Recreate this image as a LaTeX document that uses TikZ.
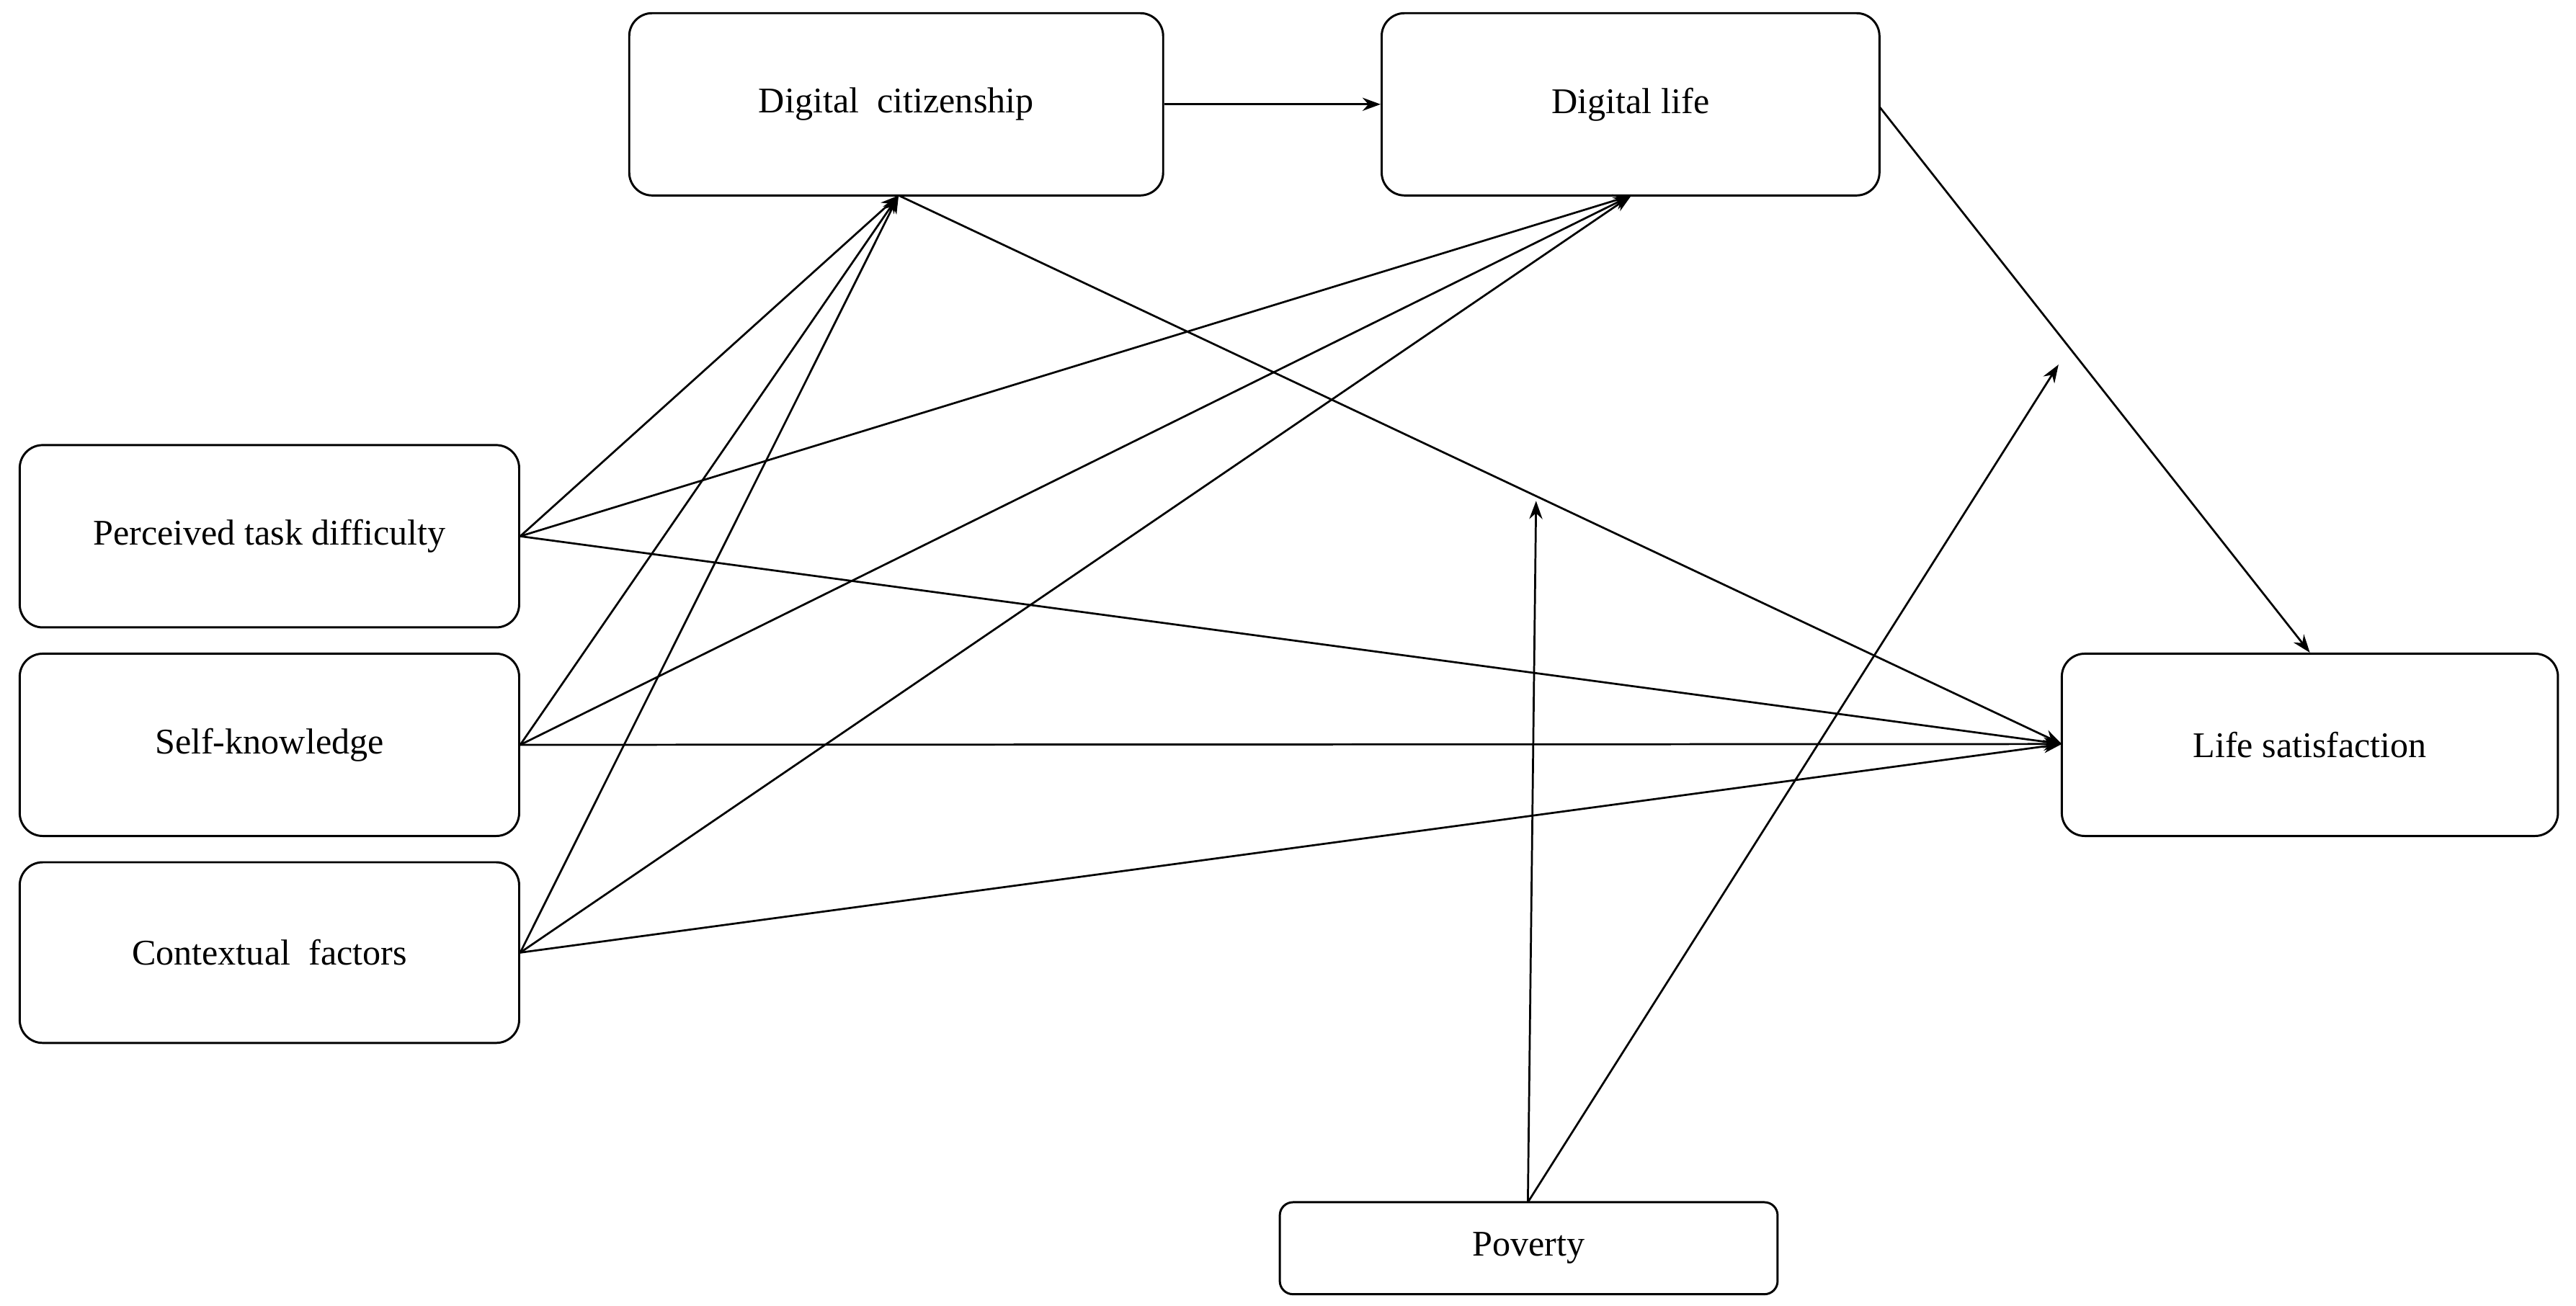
\documentclass[tikz,border=0pt]{standalone}
\usepackage{fontspec}
\setmainfont{Liberation Serif}
\usetikzlibrary{arrows.meta}
\begin{document}
\begin{tikzpicture}[x=1pt,y=-1pt,
  bx/.style={draw,rounded corners=14pt,line width=1.3pt,inner sep=0pt,font=\fontsize{22}{26}\selectfont},
  ar/.style={-{Stealth[length=11pt,width=8pt]},line width=1.2pt}]
\useasboundingbox (0,0) rectangle (1568,795);
\node[bx,minimum width=325pt,minimum height=111pt] (dc) at (545.5,63.5) {Digital\ \ citizenship};
\node[bx,minimum width=303pt,minimum height=111pt] (dl) at (992.5,63.5) {Digital life};
\node[bx,minimum width=304pt,minimum height=111pt] (ptd) at (164,326.5) {Perceived task difficulty};
\node[bx,minimum width=304pt,minimum height=111pt] (sk) at (164,453.5) {Self-knowledge};
\node[bx,minimum width=304pt,minimum height=110pt] (cf) at (164,580) {Contextual\ \ factors};
\node[bx,minimum width=302pt,minimum height=111pt] (ls) at (1406,453.5) {Life satisfaction};
\node[bx,rounded corners=8pt,minimum width=303pt,minimum height=56pt] (pov) at (930.5,760) {Poverty};
\coordinate (dcb) at (547,119);
\coordinate (dlb) at (993,119);
\coordinate (lsl) at (1255,453);
\coordinate (pt) at (930,732);
\coordinate (m1) at (935,305);
\coordinate (m2) at (1253,222);
\draw[ar] (dc.east) -- (dl.west);
\foreach \s in {ptd,sk,cf}{
  \draw[ar] (\s.east) -- (dcb);
  \draw[ar] (\s.east) -- (dlb);
  \draw[ar] (\s.east) -- (lsl);
}
\draw[ar] (dcb) -- (lsl);
\draw[ar] (1144,65) -- (ls.north);
\draw[ar] (pt) -- (m1);
\draw[ar] (pt) -- (m2);
\end{tikzpicture}
\end{document}
